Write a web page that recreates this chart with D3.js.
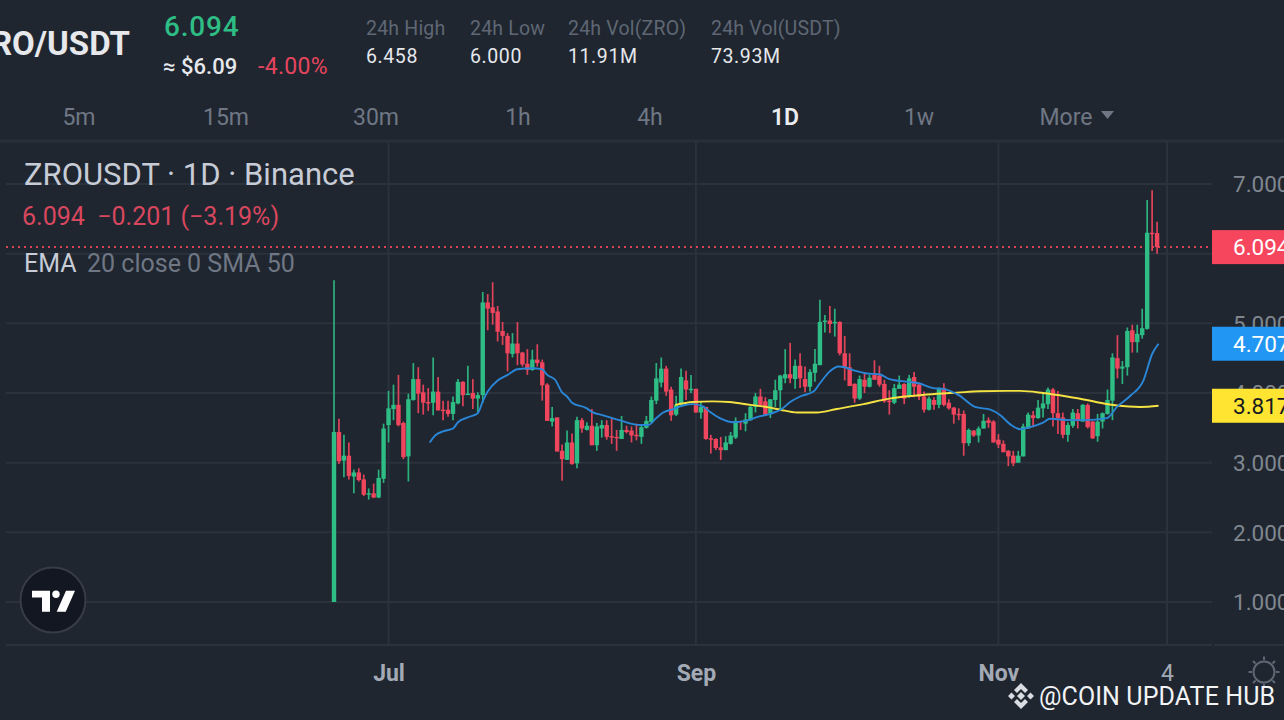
<!DOCTYPE html>
<html><head><meta charset="utf-8">
<script src="https://cdn.jsdelivr.net/npm/d3@7"></script>
<style>
html,body{margin:0;padding:0;background:#1f2630;overflow:hidden}
svg{display:block}
text{font-family:Roboto,"Noto Sans",sans-serif}
</style></head><body>
<svg id="c" width="1284" height="720"></svg>
<script>
const opens=[1.00,3.44,3.03,3.10,2.80,2.86,2.76,2.54,2.56,2.50,2.77,
3.54,3.77,3.83,3.57,3.09,3.90,4.20,4.01,3.87,3.86,
4.02,3.76,3.76,3.70,3.85,4.16,3.97,4.00,3.92,3.97,
5.30,5.23,5.17,4.89,4.82,4.56,4.71,4.58,4.42,4.33,
4.48,4.44,4.12,3.59,3.65,3.17,3.04,3.29,2.99,3.61,
3.47,3.53,3.25,3.49,3.54,3.38,3.37,3.34,3.47,3.46,
3.40,3.37,3.50,3.58,3.89,4.15,4.35,4.05,3.69,3.83,
4.18,4.05,4.06,3.72,3.80,3.35,3.34,3.22,3.18,3.27,
3.36,3.60,3.56,3.61,3.80,3.95,3.88,3.71,3.90,4.04,
4.21,4.27,4.20,4.39,4.20,4.09,4.29,4.40,5.02,5.04,
5.00,5.02,4.57,4.37,4.13,3.92,4.19,4.09,4.26,4.25,
4.13,3.89,3.86,4.06,4.13,3.95,4.23,4.12,3.95,3.76,
3.90,3.83,4.07,3.86,3.79,3.70,3.70,3.28,3.46,3.39,
3.49,3.61,3.59,3.33,3.27,3.17,3.10,3.00,3.09,3.49,
3.68,3.64,3.78,3.84,4.05,3.71,3.65,3.40,3.53,3.71,
3.59,3.83,3.59,3.38,3.59,3.70,3.89,4.50,4.35,4.37,
4.90,4.73,4.83,4.92,6.30,6.295];
const highs=[5.62,3.63,3.40,3.29,2.90,2.92,2.83,2.63,2.70,2.90,3.56,
4.03,4.12,4.26,3.59,3.99,4.43,4.37,4.12,4.07,4.51,
4.23,3.89,3.89,3.95,4.20,4.17,4.39,4.20,4.01,5.45,
5.42,5.59,5.25,5.02,4.86,4.86,5.02,4.59,4.63,4.62,
4.70,4.48,4.14,3.80,3.65,3.26,3.46,3.42,3.66,3.64,
3.58,3.77,3.57,3.61,3.61,3.64,3.47,3.67,3.53,3.52,
3.56,3.54,3.67,3.95,4.43,4.51,4.39,4.09,3.96,4.35,
4.32,4.26,4.06,3.87,3.80,3.40,3.35,3.37,3.38,3.44,
3.65,3.60,3.71,3.83,4.00,4.06,3.94,3.91,4.19,4.26,
4.63,4.72,4.48,4.57,4.38,4.34,4.63,5.34,5.12,5.25,
5.21,5.03,4.82,4.57,4.14,4.25,4.30,4.26,4.47,4.39,
4.19,4.04,4.13,4.25,4.14,4.26,4.30,4.15,4.02,3.95,
3.94,4.08,4.14,3.91,3.80,3.78,3.75,3.49,3.47,3.52,
3.70,3.65,3.61,3.41,3.32,3.18,3.17,3.17,3.56,3.72,
3.74,3.90,4.01,4.08,4.07,4.03,3.72,3.58,3.77,3.77,
3.84,3.85,3.60,3.70,3.72,4.05,4.57,4.83,4.46,4.94,
4.98,4.98,5.21,6.77,6.91,6.458];
const lows=[1.00,2.98,2.79,2.76,2.56,2.73,2.52,2.47,2.49,2.49,2.71,
3.29,3.61,3.52,3.05,2.73,3.89,3.71,3.69,3.74,3.68,
3.75,3.61,3.66,3.61,3.84,3.81,3.97,3.77,3.73,3.86,
4.90,4.98,4.74,4.69,4.31,4.51,4.40,4.38,4.26,4.32,
4.38,3.89,3.60,3.52,3.16,2.74,3.04,2.97,2.92,3.43,
3.46,3.25,3.17,3.36,3.33,3.27,3.17,3.34,3.42,3.29,
3.32,3.27,3.49,3.58,3.84,4.08,3.96,3.60,3.67,3.83,
3.90,4.00,3.72,3.63,3.33,3.13,3.18,3.04,3.18,3.26,
3.34,3.47,3.45,3.60,3.72,3.80,3.67,3.64,3.80,3.75,
4.14,4.14,4.06,4.07,4.01,4.02,4.16,4.40,4.87,4.86,
4.81,4.54,4.18,4.10,3.86,3.90,4.00,4.08,4.19,4.09,
3.86,3.69,3.84,4.06,3.84,3.93,3.94,3.90,3.72,3.75,
3.76,3.78,3.81,3.76,3.56,3.61,3.10,3.24,3.37,3.29,
3.49,3.50,3.29,3.21,3.15,2.95,2.95,3.00,3.09,3.49,
3.51,3.63,3.65,3.77,3.52,3.41,3.35,3.30,3.50,3.49,
3.59,3.49,3.34,3.30,3.49,3.69,3.61,4.21,4.13,4.25,
4.58,4.58,4.78,4.91,6.04,6.00];
const closes=[3.44,3.02,3.10,2.81,2.86,2.75,2.54,2.56,2.50,2.78,3.49,
3.78,3.83,3.54,3.08,3.91,4.20,3.99,3.86,3.86,4.02,
3.75,3.75,3.70,3.87,4.16,3.97,3.99,3.92,3.97,5.30,
5.21,5.15,4.88,4.82,4.57,4.71,4.57,4.41,4.33,4.48,
4.43,4.11,3.60,3.64,3.16,3.05,3.29,2.98,3.61,3.49,
3.53,3.25,3.52,3.54,3.37,3.37,3.36,3.47,3.44,3.39,
3.39,3.51,3.60,3.90,4.21,4.35,4.02,3.68,3.83,4.23,
4.05,4.06,3.72,3.80,3.34,3.33,3.21,3.18,3.29,3.39,
3.60,3.59,3.62,3.80,3.95,3.82,3.69,3.91,4.04,4.25,
4.27,4.21,4.39,4.21,4.09,4.30,4.42,5.02,5.04,4.99,
5.02,4.57,4.36,4.10,3.92,4.20,4.09,4.22,4.19,4.12,
3.88,3.88,4.07,4.12,3.92,4.21,4.09,3.95,3.76,3.92,
3.83,4.07,3.83,3.78,3.69,3.69,3.28,3.47,3.39,3.49,
3.60,3.57,3.29,3.26,3.15,3.09,2.99,3.10,3.52,3.69,
3.64,3.79,3.85,4.05,3.71,3.64,3.40,3.54,3.72,3.60,
3.83,3.51,3.35,3.59,3.71,3.90,4.51,4.35,4.38,4.89,
4.73,4.85,4.93,6.30,6.295,6.094];

const emaDay=[19.3,20.4,22,24,25,27,29,30,31,33,35,37,40,42,43,44.6,46,47,48,51,52,54.3,58,61.7,63.4,65,66.4,68.4,70.4,72.4,74.5,75.8,77.8,80.5,83,85.6,88,90.3,92,94,96.7,98,100,101.7,103,105,107.5,110,112,115.9,117.9,120.9,122.9,126,129.3,132.4,134.4,136.4,138.4,140.4,143,144.4,148.5,151.2,155.9,157.9,160.6,163.3,165,166.3];
const emaVal=[3.29,3.39,3.45,3.49,3.58,3.65,3.71,3.88,4.02,4.18,4.26,4.34,4.355,4.34,4.26,4.19,4.01,3.95,3.86,3.78,3.73,3.68,3.60,3.54,3.54,3.64,3.72,3.77,3.82,3.84,3.805,3.73,3.64,3.58,3.60,3.66,3.70,3.77,3.87,3.95,4.02,4.14,4.31,4.38,4.37,4.32,4.28,4.27,4.20,4.16,4.14,4.07,4.06,3.97,3.80,3.76,3.68,3.55,3.48,3.51,3.575,3.63,3.61,3.61,3.64,3.80,3.96,4.19,4.56,4.707];
const smaDay=[68.8,72.4,76.4,79.7,84,88,90,93.4,97.4,101.4,106.8,112,116.9,121.6,125.6,130.3,135.7,138.4,143,147.8,151.8,154.5,157.9,162.6,166.3];
const smaVal=[3.83,3.87,3.88,3.87,3.83,3.79,3.76,3.72,3.72,3.77,3.84,3.92,3.96,3.99,4.006,4.025,4.03,4.03,4.00,3.95,3.90,3.86,3.82,3.80,3.817];

const priceTicks=[7,6,5,4,3,2,1];
const timeTickDays=[11,73,134,168];
const timeTickLabels=["Jul","Sep","Nov","4"];
const timeframes=["5m","15m","30m","1h","4h","1D","1w","More"];
const tfCenters=[79,226,376,518,650,785,919,1066];
const statLabels=["24h High","24h Low","24h Vol(ZRO)","24h Vol(USDT)"];
const statValues=["6.458","6.000","11.91M","73.93M"];
const statX=[366,470,568,711];
const priceTags=[{v:6.094,t:"6.094",bg:"#f6465d",fg:"#fff"},{v:4.707,t:"4.707",bg:"#2196f3",fg:"#fff"},{v:3.817,t:"3.817",bg:"#ffe532",fg:"#16191f"}];

const UP="#2ebd85",DOWN="#f0465d",GRID="#2b323c",MUTED="#6f7784";
const svg=d3.select("#c");
const x=d3.scaleLinear().domain([0,168]).range([334,1167]);
const y=d3.scaleLinear().domain([1,7]).range([602,184]);

svg.append("rect").attr("width",1284).attr("height",720).attr("fill","#1f2630");
svg.append("rect").attr("x",0).attr("y",139.5).attr("width",1284).attr("height",3).attr("fill","#282f39");

// price axis + grid
const yAxis=d3.axisRight(y).tickValues(priceTicks).tickFormat(d3.format(".3f")).tickSize(0).tickPadding(0);
const gy=svg.append("g").attr("transform","translate(1233,0)").call(yAxis);
gy.select(".domain").remove();
gy.selectAll("text").attr("x",0).attr("font-size",22.5).attr("fill","#80878f").attr("dy","0.35em");
svg.append("g").selectAll("line").data(priceTicks).join("line")
 .attr("x1",6).attr("x2",1212).attr("y1",d=>y(d)).attr("y2",d=>y(d)).attr("stroke",GRID).attr("stroke-width",2);
svg.append("line").attr("x1",6).attr("x2",1212).attr("y1",645).attr("y2",645).attr("stroke",GRID).attr("stroke-width",2);
svg.append("line").attr("x1",1214).attr("x2",1284).attr("y1",645).attr("y2",645).attr("stroke",GRID).attr("stroke-width",2);

// time axis + grid
svg.append("g").selectAll("line").data(timeTickDays).join("line")
 .attr("x1",d=>x(d)).attr("x2",d=>x(d)).attr("y1",141).attr("y2",645).attr("stroke",GRID).attr("stroke-width",2);
const xAxis=d3.axisBottom(x).tickValues(timeTickDays).tickFormat((d,i)=>timeTickLabels[i]).tickSize(0).tickPadding(0);
const gx=svg.append("g").attr("transform","translate(0,681)").call(xAxis);
gx.select(".domain").remove();
gx.selectAll("text").attr("y",0).attr("dy",0).attr("font-size",23).attr("fill","#a3aab5")
 .attr("font-weight",(d,i)=>timeTickLabels[i]==="4"?400:700);

// price line
svg.append("line").attr("x1",6).attr("x2",1212).attr("y1",y(6.094)).attr("y2",y(6.094))
 .attr("stroke",DOWN).attr("stroke-width",2).attr("stroke-dasharray","2 4").attr("opacity",.9);

// candles
const days=d3.range(opens.length);
const col=i=>closes[i]>=opens[i]?UP:DOWN;
const cg=svg.append("g");
cg.selectAll("line").data(days).join("line")
 .attr("x1",i=>x(i)).attr("x2",i=>x(i)).attr("y1",i=>y(highs[i])).attr("y2",i=>y(lows[i]))
 .attr("stroke",col).attr("stroke-width",1.7).attr("opacity",.92);
cg.selectAll("rect").data(days).join("rect")
 .attr("x",i=>x(i)-2.2).attr("width",4.4)
 .attr("y",i=>Math.min(y(opens[i]),y(closes[i])))
 .attr("height",i=>Math.max(1.4,Math.abs(y(opens[i])-y(closes[i]))))
 .attr("fill",col);

// moving averages
const line=d3.line().curve(d3.curveMonotoneX).x(d=>x(d[0])).y(d=>y(d[1]));
svg.append("path").attr("d",line(smaDay.map((d,i)=>[d,smaVal[i]]))).attr("fill","none").attr("stroke","#f5e243").attr("stroke-width",1.9);
svg.append("path").attr("d",line(emaDay.map((d,i)=>[d,emaVal[i]]))).attr("fill","none").attr("stroke","#2a86d6").attr("stroke-width",1.9);

// price tags
const tags=svg.append("g").selectAll("g").data(priceTags).join("g");
tags.append("rect").attr("x",1212).attr("width",72).attr("height",34).attr("y",d=>y(d.v)-17).attr("fill",d=>d.bg);
tags.append("text").attr("x",1233).attr("y",d=>y(d.v)).attr("dy","0.36em").attr("font-size",22.5).attr("fill",d=>d.fg).text(d=>d.t);

// header
svg.append("text").attr("x",130).attr("y",55).attr("text-anchor","end").attr("font-size",33).attr("font-weight",700).attr("fill","#e6e8ec").text("ZRO/USDT");
svg.append("text").attr("x",164).attr("y",36).attr("font-size",28).attr("font-weight",500).attr("letter-spacing",.8).attr("fill",UP).text("6.094");
svg.append("text").attr("x",163).attr("y",74).attr("font-size",22).attr("font-weight",500).attr("fill","#e6e8ec").text("≈ $6.09");
svg.append("text").attr("x",258).attr("y",74).attr("font-size",23).attr("letter-spacing",.3).attr("fill","#e5455c").text("-4.00%");
svg.append("g").selectAll("text").data(statLabels).join("text").attr("x",(d,i)=>statX[i]).attr("y",35).attr("font-size",19.5).attr("letter-spacing",.2).attr("fill","#5f6774").text(d=>d);
svg.append("g").selectAll("text").data(statValues).join("text").attr("x",(d,i)=>statX[i]).attr("y",63).attr("font-size",19.5).attr("letter-spacing",.6).attr("fill","#e6e8ec").text(d=>d);

// timeframe tabs
svg.append("g").selectAll("text").data(timeframes).join("text").attr("x",(d,i)=>tfCenters[i]).attr("y",125).attr("text-anchor","middle")
 .attr("font-size",23).attr("font-weight",d=>d==="1D"?600:400).attr("fill",d=>d==="1D"?"#eaecef":MUTED).text(d=>d);
svg.append("path").attr("d","M1101 111h13l-6.5 8z").attr("fill",MUTED);

// legend
svg.append("text").attr("x",24).attr("y",185).attr("font-size",31).attr("fill","#c7ccd6").text("ZROUSDT · 1D · Binance");
svg.append("text").attr("x",22).attr("y",225).attr("font-size",25).attr("fill","#d8475e").attr("xml:space","preserve").text("6.094  −0.201 (−3.19%)");
svg.append("text").attr("x",24).attr("y",272).attr("font-size",25).attr("fill","#c7ccd6").text("EMA");
svg.append("text").attr("x",87).attr("y",272).attr("font-size",25).attr("fill",MUTED).text("20 close 0 SMA 50");

// TradingView badge
const tv=svg.append("g");
tv.append("circle").attr("cx",53).attr("cy",600).attr("r",32.5).attr("fill","#131722").attr("stroke","#363c48").attr("stroke-width",2);
tv.append("path").attr("fill","#fff").attr("d","M32 590.7h18v21h-8v-14.3h-10zM66 590.7h9l-9.3 21h-9z");
tv.append("circle").attr("cx",56).attr("cy",594.3).attr("r",3.7).attr("fill","#fff");

// settings icon
const sun=svg.append("g").attr("stroke","#5f6774").attr("stroke-width",2).attr("fill","none");
sun.append("circle").attr("cx",1264).attr("cy",672).attr("r",10.5);
d3.range(8).forEach(k=>{const a=k*Math.PI/4;sun.append("line").attr("x1",1264+12*Math.cos(a)).attr("y1",672+12*Math.sin(a)).attr("x2",1264+15.5*Math.cos(a)).attr("y2",672+15.5*Math.sin(a));});

// watermark
const wm=svg.append("g").attr("fill","#d9dce2");
wm.append("path").attr("d","M1021 683l7 7-3 3-4-4-4 4-3-3zM1021 709l7-7-3-3-4 4-4-4-3 3zM1021 692l4 4-4 4-4-4zM1008 696l3.5-3.5 3.5 3.5-3.5 3.5zM1027 696l3.5-3.5 3.5 3.5-3.5 3.5z");
svg.append("text").attr("x",1039).attr("y",705).attr("font-size",25).attr("letter-spacing",.1).attr("fill","#f2f3f5").text("@COIN UPDATE HUB");
</script>
</body></html>
